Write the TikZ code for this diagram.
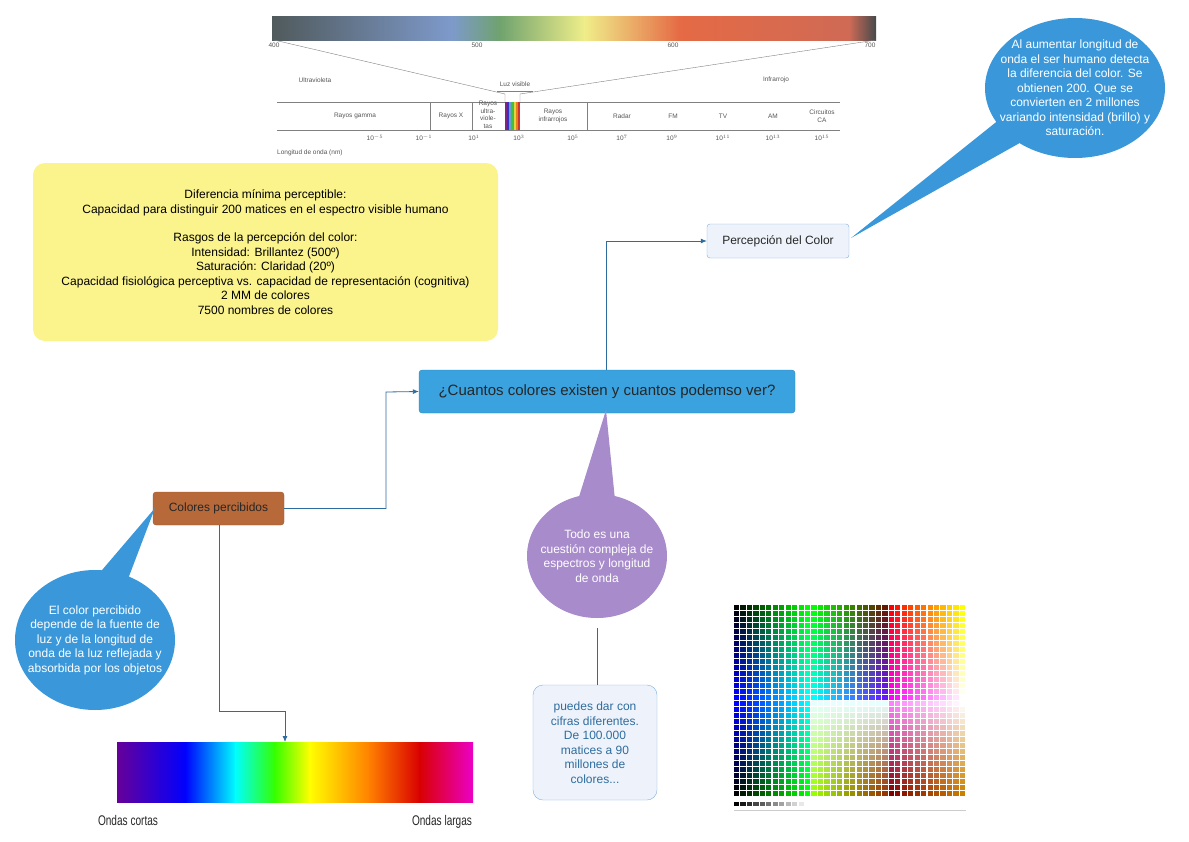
\documentclass[tikz,border=0pt]{standalone}
\usepackage{fontspec}
\setmainfont{Liberation Sans}
\usetikzlibrary{shapes.geometric,arrows.meta}
\definecolor{conn}{HTML}{2E6C9E}
\definecolor{yel}{HTML}{FBF38C}
\definecolor{cblue}{HTML}{3AA3DF}
\definecolor{callb}{HTML}{3A98DA}
\definecolor{brownn}{HTML}{B8693A}
\definecolor{purp}{HTML}{A88BCB}
\definecolor{lightb}{HTML}{EEF3FB}
\definecolor{lbord}{HTML}{7FAEDD}
\definecolor{sgray}{HTML}{555555}
\definecolor{s1}{HTML}{505A5C}
\definecolor{s2}{HTML}{7E9ACB}
\definecolor{s3}{HTML}{6FA26E}
\definecolor{s4}{HTML}{F0EE8A}
\definecolor{s5}{HTML}{E56A45}
\definecolor{s6}{HTML}{CF6A55}
\definecolor{s7}{HTML}{454A4C}
\tikzset{
  conn/.style={draw=conn,line width=0.8pt},
  arr/.style={conn,-{Latex[length=6pt,width=5pt]}},
  sm/.style={font=\fontsize{6.5}{7.5}\selectfont,text=sgray,inner sep=0pt,align=center},
  txt/.style={font=\fontsize{12}{14.5}\selectfont,align=center},
  wtxt/.style={txt,text=white},
}
\begin{document}
\begin{tikzpicture}[x=1pt,y=-1pt]
\useasboundingbox (0,0) rectangle (1189,841);
% ---- top spectrum
\shade[left color=s1,right color=s2] (272,16) rectangle (452,40);
\shade[left color=s2,right color=s3] (451,16) rectangle (500,40);
\shade[left color=s3,right color=s4] (499,16) rectangle (585,40);
\shade[left color=s4,right color=s5] (584,16) rectangle (680,40);
\shade[left color=s5,right color=s6] (679,16) rectangle (850,40);
\shade[left color=s6,right color=s7] (849,16) rectangle (876,40);
\foreach \x/\l in {274/400,477/500,673/600,870/700} \node[sm] at (\x,45) {\l};
\draw[gray,line width=0.4pt] (274,40)--(505,94)--(505,102) (876,40)--(520,94)--(520,102);
\node[sm] at (315,80) {Ultravioleta};
\node[sm] (lv) at (515,84) {Luz visible};
\draw[gray,line width=0.3pt] (497,91)--(533,91);
\node[sm] at (776,80) {Infrarrojo};
\draw[gray,line width=0.4pt] (277,102)--(840,102) (277,130)--(840,130);
\foreach \x in {430,472,587} \draw[gray,line width=0.4pt] (\x,102)--(\x,130);
\foreach \i/\c in {0/violet!70!gray,1/blue!60!gray,2/cyan!50!gray,3/green!50!gray,4/yellow!70!gray,5/orange!80!gray,6/red!60!gray}
  \fill[\c] (505+\i*2.15,102) rectangle (507.15+\i*2.15,130);
\node[sm] at (355,116) {Rayos gamma};
\node[sm] at (451,116) {Rayos X};
\node[sm] at (488,115) {Rayos\\ultra-\\viole-\\tas};
\node[sm] at (553,116) {Rayos\\infrarrojos};
\foreach \x/\l in {622/Radar,673/FM,723/TV,773/AM} \node[sm] at (\x,116) {\l};
\node[sm] at (822,116) {Circuitos\\CA};
\foreach \x/\e in {375/-5,424/-1,474/1,519/3,573/5,622/7,672/9,723/11,773/13,822/15}
  \node[sm] at (\x,138) {10$^{\e}$};
\node[sm,anchor=west] at (277,153) {Longitud de onda (nm)};
% ---- yellow box
\node[txt,fill=yel,rounded corners=12pt,minimum width=465pt,minimum height=178pt] (yb) at (265.5,252)
 {Diferencia mínima perceptible:\\Capacidad para distinguir 200 matices en el espectro visible humano\\[14pt]
 Rasgos de la percepción del color:\\Intensidad: Brillantez (500º)\\Saturación: Claridad (20º)\\
 Capacidad fisiológica perceptiva vs. capacidad de representación (cognitiva)\\2 MM de colores\\7500 nombres de colores};
% ---- central
\node[font=\fontsize{15}{17}\selectfont,text=black!85,fill=cblue,draw=cblue!80!black,line width=0.3pt,rounded corners=3pt,minimum width=376pt,minimum height=43pt] (c) at (607,391.5) {¿Cuantos colores existen y cuantos podemso ver?};
\node[font=\fontsize{12}{14}\selectfont,text=black!85,fill=lightb,draw=lbord,rounded corners=3pt,minimum width=142pt,minimum height=34pt] (pc) at (778,241) {Percepción del Color};
\node[font=\fontsize{12}{14}\selectfont,text=black!85,fill=brownn,draw=brownn!80!black,line width=0.3pt,rounded corners=3pt,minimum width=131pt,minimum height=33pt] (cp) at (218.5,508.5) {Colores percibidos};
% ---- callouts
\fill[callb] (1075,88) ellipse [x radius=90,y radius=70];
\fill[callb] (1005,115)--(851,238)--(1025,140)--cycle;
\node[wtxt] (t1) at (1075,88) {Al aumentar longitud de\\onda el ser humano detecta\\la diferencia del color. Se\\obtienen 200. Que se\\convierten en 2 millones\\variando intensidad (brillo) y\\saturación.};
\fill[callb] (95,640) ellipse [x radius=80,y radius=70];
\fill[callb] (85,590)--(155,508)--(120,600)--cycle;
\node[wtxt] (t2) at (95,640) {El color percibido\\depende de la fuente de\\luz y de la longitud de\\onda de la luz reflejada y\\absorbida por los objetos};
\fill[purp] (597,556) ellipse [x radius=70,y radius=62];
\fill[purp] (578,500)--(606,410)--(615,500)--cycle;
\node[wtxt] (t3) at (597,556) {Todo es una\\cuestión compleja de\\espectros y longitud\\de onda};
\node[txt,text=conn,fill=lightb,draw=lbord,rounded corners=10pt,minimum width=124pt,minimum height=115pt] (pd) at (595,742.5) {puedes dar con\\cifras diferentes.\\De 100.000\\matices a 90\\millones de\\colores...};
% ---- connectors
\draw[arr] (c.north -| 606,0) |- (pc.west);
\draw[arr] (cp.east) -| (386,392) -- (c.west);
\draw[arr] (cp.south -| 219,0) -- (219,711) -| (285,742);
\draw[conn] (597,628) -- (pd.north -| 597,0);
% ---- rainbow bar
\shade[left color=violet!80!blue,right color=blue] (117,742) rectangle (186,802);
\shade[left color=blue,right color=cyan] (185,742) rectangle (236,802);
\shade[left color=cyan,right color=green!80!yellow] (235,742) rectangle (275,802);
\shade[left color=green!80!yellow,right color=yellow] (274,742) rectangle (310,802);
\shade[left color=yellow,right color=orange] (309,742) rectangle (370,802);
\shade[left color=orange,right color=red!85!black] (369,742) rectangle (420,802);
\shade[left color=red!85!black,right color=magenta!70!purple] (419,742) rectangle (473,802);
\node[font=\fontsize{14}{15}\selectfont,xscale=0.72,text=black!85] at (128,820) {Ondas cortas};
\node[font=\fontsize{14}{15}\selectfont,xscale=0.72,text=black!85] at (442,822) {Ondas largas};
% ---- color grid
\foreach \col in {0,...,35}{
 \foreach \row in {0,...,31}{
  \pgfmathsetmacro{\b}{int(\col/12)}
  \pgfmathsetmacro{\c}{mod(\col,12)/11}
  \pgfmathsetmacro{\h}{\row<16 ? \row/15 : 1-(\row-16)/15}
  \pgfmathsetmacro{\lo}{\row<16 ? 0 : (\row-16)/15}
  \pgfmathsetmacro{\R}{\b==0 ? 0 : (\b==1 ? (\row<16 ? 0.4*\c : 0.6+0.3*\h) : 1-0.5*\lo*(1-\c*0.6))}
  \pgfmathsetmacro{\G}{\b==0 ? \c : (\b==1 ? (\row<16 ? 1-\c*0.9 : 1-\c*0.8*(1-\h)) : (\row<16 ? \c : \c*0.5+0.5*\h))}
  \pgfmathsetmacro{\B}{\h}
  \definecolor{gc}{rgb}{\R,\G,\B}
  \fill[gc] (734+\col*6.45,605+\row*6) rectangle (739.2+\col*6.45,609.5+\row*6);
 }}
\foreach \i in {0,...,10}{\pgfmathsetmacro{\g}{\i/11}\definecolor{gg}{gray}{\g}\fill[gg] (734+\i*6.45,802) rectangle (739.2+\i*6.45,806);}
\draw[gray!40,line width=0.4pt] (734,810)--(966,810);
\end{tikzpicture}
\end{document}
